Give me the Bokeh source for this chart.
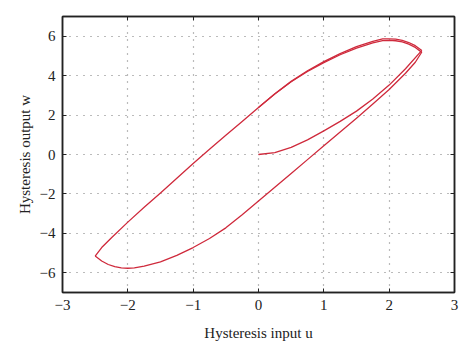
from bokeh.plotting import figure
from bokeh.models import Range1d, LinearAxis, FixedTicker
from bokeh.embed import file_html
from bokeh.resources import INLINE

# ---- data ----
x_ticks = [-3, -2, -1, 0, 1, 2, 3]
x_tick_labels = ["\u22123", "\u22122", "\u22121", "0", "1", "2", "3"]
y_ticks = [-6, -4, -2, 0, 2, 4, 6]
y_tick_labels = ["\u22126", "\u22124", "\u22122", "0", "2", "4", "6"]

# initial loading curve from the origin
init_u = [0.0, 0.25, 0.5, 0.75, 1.0, 1.25, 1.5, 1.75, 2.0, 2.25, 2.5]
init_w = [0.0, 0.1, 0.36, 0.74, 1.2, 1.68, 2.2, 2.82, 3.52, 4.35, 5.28]

# descending branch, first cycle
down1_u = [2.5, 2.4, 2.3, 2.2, 2.1, 2.0, 1.9, 1.75, 1.5, 1.25, 1.0, 0.75, 0.5,
           0.25, 0.0, -0.25, -0.5, -0.75, -1.0, -1.25, -1.5, -1.75, -2.0,
           -2.25, -2.4, -2.5]
down1_w = [5.28, 5.52, 5.68, 5.79, 5.85, 5.87, 5.86, 5.74, 5.47, 5.12, 4.71,
           4.25, 3.71, 3.08, 2.38, 1.68, 0.98, 0.27, -0.46, -1.2, -1.95, -2.68,
           -3.43, -4.22, -4.72, -5.15]

# ascending branch
up_u = [-2.5, -2.4, -2.3, -2.2, -2.1, -2.0, -1.9, -1.75, -1.5, -1.25, -1.0,
        -0.75, -0.5, -0.25, 0.0, 0.25, 0.5, 0.75, 1.0, 1.25, 1.5, 1.75, 2.0,
        2.25, 2.4, 2.5]
up_w = [-5.15, -5.4, -5.58, -5.69, -5.75, -5.77, -5.75, -5.66, -5.45, -5.12,
        -4.72, -4.26, -3.72, -3.06, -2.36, -1.66, -0.96, -0.26, 0.44, 1.14,
        1.84, 2.56, 3.3, 4.12, 4.68, 5.2]

# descending branch, second cycle (slightly below the first near the peak)
down2_u = [2.5, 2.4, 2.3, 2.2, 2.1, 2.0, 1.9, 1.75, 1.5, 1.25, 1.0, 0.75, 0.5,
           0.25, 0.0]
down2_w = [5.18, 5.43, 5.6, 5.71, 5.77, 5.79, 5.78, 5.66, 5.4, 5.06, 4.66,
           4.21, 3.69, 3.07, 2.38]

x_title = "Hysteresis input u"
y_title = "Hysteresis output w"

RED = "#cf2a3c"
INK = "#222222"
FONT = "Times New Roman"

p = figure(width=474, height=356, output_backend="svg", toolbar_location=None,
           x_range=Range1d(-3, 3), y_range=Range1d(-7, 7),
           min_border_left=62, min_border_right=20, min_border_top=16,
           min_border_bottom=64)
p.background_fill_color = "white"
p.border_fill_color = "white"
p.outline_line_color = INK
p.outline_line_width = 1.5

for xs, ys in [(init_u, init_w), (down1_u, down1_w), (up_u, up_w), (down2_u, down2_w)]:
    p.line(xs, ys, line_color=RED, line_width=1.3, line_join="round")

p.xaxis.ticker = FixedTicker(ticks=x_ticks)
p.yaxis.ticker = FixedTicker(ticks=y_ticks)
p.xaxis.major_label_overrides = dict(zip(x_ticks, x_tick_labels))
p.yaxis.major_label_overrides = dict(zip(y_ticks, y_tick_labels))

for ax in [p.xaxis[0], p.yaxis[0]]:
    ax.major_tick_in = 4
    ax.major_tick_out = 0
    ax.minor_tick_in = 0
    ax.minor_tick_out = 0
    ax.axis_line_color = INK
    ax.axis_line_width = 1.5
    ax.major_tick_line_color = INK
    ax.major_label_text_font = FONT
    ax.major_label_text_font_size = "15px"
    ax.major_label_text_color = INK
    ax.major_label_standoff = 7
    ax.axis_label_text_font_size = "15px"
    ax.axis_label_text_font_style = "normal"
    ax.axis_label_text_color = INK
    ax.axis_label_text_font = FONT

p.xaxis.axis_label = x_title
p.yaxis.axis_label = y_title
p.xaxis.axis_label_standoff = 12
p.yaxis.axis_label_standoff = 4

# top and right axes carry only the inward ticks
top = LinearAxis(ticker=FixedTicker(ticks=x_ticks),
                 major_label_overrides={t: "" for t in x_ticks},
                 major_tick_in=4, major_tick_out=0, minor_tick_in=0, minor_tick_out=0,
                 axis_line_color=INK, axis_line_width=1.5,
                 major_tick_line_color=INK, major_label_standoff=0)
right = LinearAxis(ticker=FixedTicker(ticks=y_ticks),
                   major_label_overrides={t: "" for t in y_ticks},
                   major_tick_in=4, major_tick_out=0, minor_tick_in=0, minor_tick_out=0,
                   axis_line_color=INK, axis_line_width=1.5,
                   major_tick_line_color=INK, major_label_standoff=0)
p.add_layout(top, "above")
p.add_layout(right, "right")

p.xgrid.ticker = FixedTicker(ticks=x_ticks)
p.ygrid.ticker = FixedTicker(ticks=y_ticks)
for g in [p.xgrid[0], p.ygrid[0]]:
    g.grid_line_color = "#777777"
    g.grid_line_dash = "1 6"
    g.grid_line_width = 1.2

open("out.html", "w").write(file_html(p, INLINE))
